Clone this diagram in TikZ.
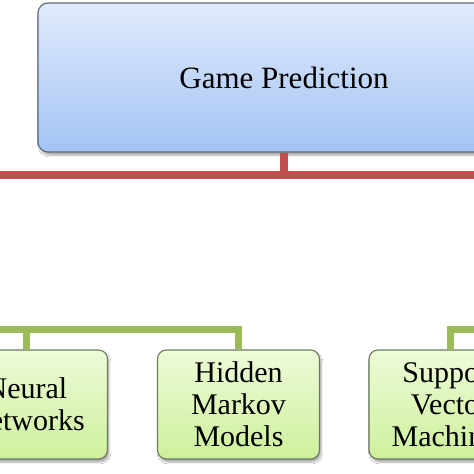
\documentclass[tikz,border=0pt]{standalone}
\usepackage{fontspec}
\setmainfont{Liberation Serif}
\usetikzlibrary{shadows.blur}
\definecolor{bluetop}{HTML}{E0EAFC}
\definecolor{bluebot}{HTML}{A3C3F4}
\definecolor{blueborder}{HTML}{5F6B7A}
\definecolor{greentop}{HTML}{EEFBD8}
\definecolor{greenbot}{HTML}{CDF09C}
\definecolor{greenborder}{HTML}{6E7A5E}
\definecolor{redline}{HTML}{C0504D}
\definecolor{greenline}{HTML}{9BBB59}
\tikzset{
  topbox/.style={draw=blueborder, line width=1.1pt, rounded corners=10pt,
    top color=bluetop, bottom color=bluebot,
    minimum width=492pt, minimum height=149pt, inner sep=0pt,
    blur shadow={shadow xshift=1.5pt, shadow yshift=-3pt, shadow opacity=35, shadow blur steps=6},
    font=\fontsize{31}{34}\selectfont},
  leafbox/.style={draw=greenborder, line width=1.1pt, rounded corners=9pt,
    top color=greentop, bottom color=greenbot,
    minimum width=162pt, minimum height=109pt, inner sep=0pt, align=center,
    blur shadow={shadow xshift=1.5pt, shadow yshift=-3pt, shadow opacity=35, shadow blur steps=6},
    font=\fontsize{30}{32}\selectfont},
  redconn/.style={draw=redline, line width=8pt, line join=miter},
  greenconn/.style={draw=greenline, line width=7pt, line join=miter},
}
\begin{document}
\begin{tikzpicture}[x=1pt, y=-1pt]
\fill[white] (0,0) rectangle (474,474);
\useasboundingbox (0,0) rectangle (474,474);
\node[topbox] (gp) at (284,77.5) {Game Prediction};
\node[leafbox] (nn) at (26.5,404.5) {Neural\\Networks};
\node[leafbox] (hmm) at (238.5,404.5) {Hidden\\Markov\\Models};
\node[leafbox] (svm) at (450,404.5) {Support\\Vector\\Machines};
\coordinate (redL) at (-10,175);
\coordinate (redR) at (484,175);
\coordinate (grnL) at (-10,329.5);
\coordinate (grnR) at (484,329.5);
\draw[redconn] (gp.south) -- (gp.south |- redL);
\draw[redconn] (redL) -- (redR);
\draw[greenconn] (grnL) -| (hmm.north);
\draw[greenconn] (nn.north) -- (nn.north |- grnL);
\draw[greenconn] (svm.north) |- (grnR);
\end{tikzpicture}
\end{document}
